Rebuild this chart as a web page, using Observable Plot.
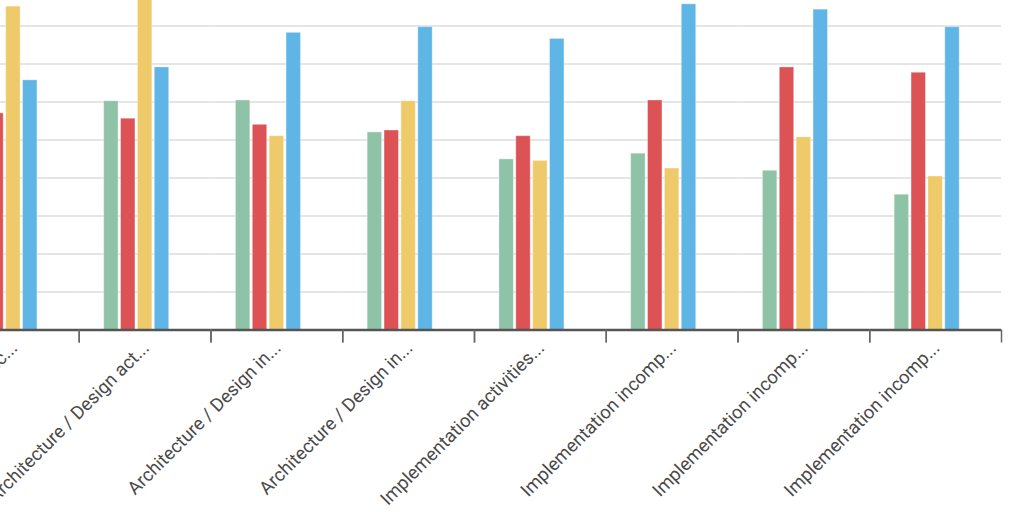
<!DOCTYPE html>
<html><head><meta charset="utf-8">
<script src="https://cdn.jsdelivr.net/npm/d3@7"></script>
<script src="https://cdn.jsdelivr.net/npm/@observablehq/plot@0.6"></script>
<style>
html,body{margin:0;padding:0;background:#fff;overflow:hidden;}
#wrap{position:relative;width:1024px;height:512px;overflow:hidden;background:#fff;}
#chart{position:absolute;left:-61px;top:0;width:1085px;height:512px;}
#chart svg{max-width:none !important;width:1085px;height:512px;}
</style></head><body><div id="wrap"><div id="chart"></div></div>
<script>
// Category labels as displayed (truncated in the original)
const categoryLabels = [
  "Architecture / Design ac...",
  "Architecture / Design act...",
  "Architecture / Design in...",
  "Architecture / Design in...",
  "Implementation activities...",
  "Implementation incomp...",
  "Implementation incomp...",
  "Implementation incomp..."
];
const seriesNames = ["Series 1", "Series 2", "Series 3", "Series 4"];
const series1 = [48.0, 60.2, 60.4, 52.0, 44.9, 46.4, 41.9, 35.6];
const series2 = [57.0, 55.6, 54.0, 52.5, 51.0, 60.4, 69.1, 67.7];
const series3 = [85.1, 92.0, 51.0, 60.2, 44.5, 42.5, 50.7, 40.4];
const series4 = [65.7, 69.1, 78.2, 79.7, 76.6, 85.7, 84.3, 79.7];
const yTicks = [10, 20, 30, 40, 50, 60, 70, 80];
const seriesColors = ["#8fc3a7", "#dd5255", "#efca6a", "#5fb5e5"];

const seriesValues = [series1, series2, series3, series4];
const catIdx = d3.range(categoryLabels.length);
const rows = [];
catIdx.forEach(i => seriesValues.forEach((vals, s) => rows.push({cat: i, series: seriesNames[s], value: vals[i]})));

const W = 1085, H = 512, mL = 0, mR = 15, mT = 0, mB = 182.5;
const fxPadOuter = 0.0607;
const step = (W - mL - mR) / (categoryLabels.length + 2 * fxPadOuter);
const yTop = (H - mB - mT) / 3.8;

function build(superOK) {
  const sup = superOK ? {facet: "super"} : {};
  return Plot.plot({
    width: W, height: H, marginLeft: mL, marginRight: mR, marginTop: mT, marginBottom: mB,
    style: {fontFamily: "Roboto, sans-serif", fontSize: "18.5px", color: "#444", background: "#fff"},
    fx: {domain: catIdx, paddingInner: 0, paddingOuter: fxPadOuter, round: false, axis: null, label: null},
    x: {domain: [...seriesNames, ""], paddingInner: 0.146, paddingOuter: 1.476, round: false, axis: null},
    y: {domain: [0, yTop], axis: null},
    color: {domain: seriesNames, range: seriesColors},
    marks: [
      Plot.ruleY(yTicks, {stroke: "#dcdcdc", strokeWidth: 1.5, ...sup}),
      Plot.barY(rows, {fx: "cat", x: "series", y: "value", fill: "series", stroke: "#ffffff", strokeOpacity: 0.35, strokeWidth: 1, clip: true}),
      Plot.ruleY([0], {stroke: "#555", strokeWidth: 2.5, ...sup}),
      Plot.axisFx({anchor: "bottom", tickSize: 13, tickFormat: () => "", dx: -step / 2, stroke: "#666", strokeWidth: 1.5, label: null}),
      Plot.axisFx([catIdx[catIdx.length - 1]], {anchor: "bottom", tickSize: 13, tickFormat: () => "", dx: step / 2, stroke: "#666", strokeWidth: 1.5, label: null}),
      Plot.text(catIdx, {fx: d => d, text: d => categoryLabels[d], frameAnchor: "bottom", rotate: -45, textAnchor: "end", lineAnchor: "bottom", dx: 5, dy: 19, fill: "#4a4a4a", fontSize: 18.5})
    ]
  });
}
let chart;
try { chart = build(true); } catch (e) { chart = build(false); }
document.getElementById("chart").appendChild(chart);
</script>
</body></html>
